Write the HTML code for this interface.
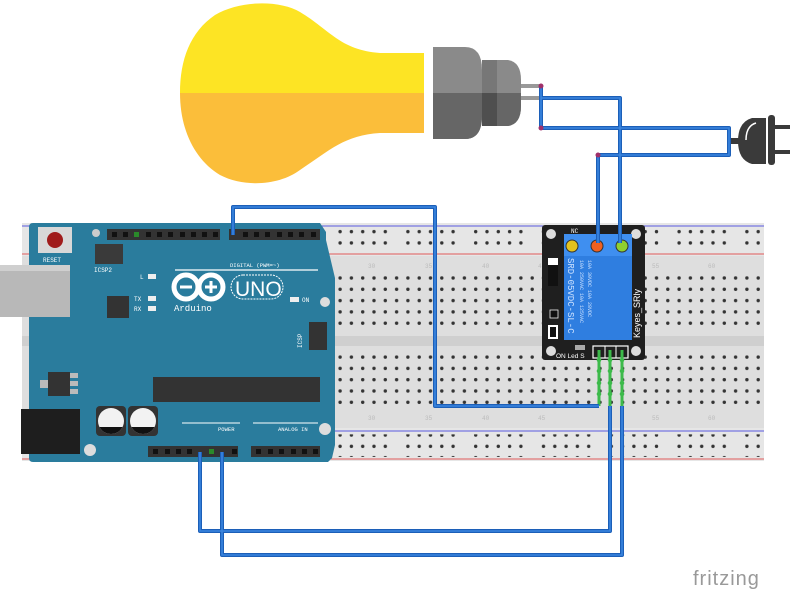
<!DOCTYPE html>
<html><head><meta charset="utf-8"><style>
html,body{margin:0;padding:0;background:#fff;}
svg{display:block;}
text{font-family:"Liberation Mono",monospace;}
</style></head><body>
<svg width="800" height="599" viewBox="0 0 800 599" xmlns="http://www.w3.org/2000/svg">
<defs>
<pattern id="rail" patternUnits="userSpaceOnUse" x="-4.55" y="0" width="67.8" height="11.3">
<circle cx="5.65" cy="5.65" r="1.7" fill="#333"/><circle cx="16.95" cy="5.65" r="1.7" fill="#333"/><circle cx="28.25" cy="5.65" r="1.7" fill="#333"/><circle cx="39.55" cy="5.65" r="1.7" fill="#333"/><circle cx="50.85" cy="5.65" r="1.7" fill="#333"/>
</pattern>
<pattern id="main" patternUnits="userSpaceOnUse" x="-4.55" y="272.35" width="11.3" height="11.3">
<circle cx="5.65" cy="5.65" r="1.7" fill="#333"/>
</pattern>
<clipPath id="bulb"><path d="M424,53 L380,53 C340,50 330,30 300,12 C280,0 240,0 215,15 C190,32 180,60 180,93 C180,130 195,160 220,175 C245,188 280,185 300,170 C330,150 345,135 380,133 L424,133 Z"/></clipPath>
<clipPath id="cap1"><circle cx="111" cy="421" r="13"/></clipPath>
<clipPath id="cap2"><circle cx="143" cy="421" r="13"/></clipPath>
</defs>

<!-- bulb -->
<g clip-path="url(#bulb)">
<rect x="170" y="0" width="260" height="93" fill="#fde424"/>
<rect x="170" y="93" width="260" height="100" fill="#fbbe3a"/>
</g>
<path d="M433,47 L465,47 Q482,47 482,70 L482,116 Q482,139 465,139 L433,139 Z" fill="#8a8a8a"/>
<path d="M433,93 L482,93 L482,116 Q482,139 465,139 L433,139 Z" fill="#666"/>
<rect x="482" y="60" width="15" height="66" fill="#777"/>
<rect x="482" y="93" width="15" height="33" fill="#4f4f4f"/>
<path d="M497,60 L508,60 Q521,62 521,80 L521,106 Q521,124 508,126 L497,126 Z" fill="#8a8a8a"/>
<path d="M497,93 L521,93 L521,106 Q521,124 508,126 L497,126 Z" fill="#666"/>
<rect x="521" y="84" width="20" height="4" fill="#999"/>
<rect x="521" y="96" width="20" height="4" fill="#999"/>

<!-- plug -->
<rect x="731" y="138" width="9" height="6" fill="#3a3a3a"/>
<path d="M766,118 L752,118 Q738,122 738,141 Q738,160 752,164 L766,164 Z" fill="#3a3a3a"/>
<path d="M746,140 Q746,126 756,123" stroke="#fff" stroke-width="1.5" fill="none"/>
<rect x="768" y="115" width="7" height="50" rx="3" fill="#3a3a3a"/>
<rect x="775" y="125" width="15" height="4" fill="#3a3a3a"/>
<rect x="775" y="150" width="15" height="4" fill="#3a3a3a"/>

<!-- breadboard -->
<rect x="22" y="223" width="742" height="238" fill="#dedede"/>
<rect x="22" y="223" width="742" height="33" fill="#e6e6e6"/>
<rect x="22" y="428" width="742" height="33" fill="#e6e6e6"/>
<rect x="22" y="336" width="742" height="10" fill="#cfcfcf"/>
<line x1="22" y1="226" x2="764" y2="226" stroke="#5a5ae0" stroke-width="1"/>
<line x1="22" y1="254" x2="764" y2="254" stroke="#e05a5a" stroke-width="1"/>
<line x1="22" y1="431" x2="764" y2="431" stroke="#5a5ae0" stroke-width="1"/>
<line x1="22" y1="459" x2="764" y2="459" stroke="#e05a5a" stroke-width="1"/>
<g>
<rect x="28" y="229.35" width="732" height="22.6" fill="url(#rail)"/>
<rect x="28" y="272.35" width="732" height="56.5" fill="url(#main)"/>
<rect x="28" y="354.35" width="732" height="56.5" fill="url(#main)"/>
<rect x="28" y="434.35" width="732" height="22.6" fill="url(#rail)"/>
</g>
<g font-size="6" fill="#bbb">
<text x="368" y="268">30</text><text x="425" y="268">35</text><text x="482" y="268">40</text><text x="538" y="268">45</text><text x="595" y="268">50</text><text x="652" y="268">55</text><text x="708" y="268">60</text>
<text x="368" y="420">30</text><text x="425" y="420">35</text><text x="482" y="420">40</text><text x="538" y="420">45</text><text x="652" y="420">55</text><text x="708" y="420">60</text>
</g>

<!-- arduino -->
<path d="M33,223 L320,223 L326,232 L326,240 L335,278 L335,445 L332,458 L328,462 L33,462 Q29,462 29,458 L29,227 Q29,223 33,223 Z" fill="#2a7c9d"/>
<rect x="0" y="265" width="70" height="52" fill="#b8b8b8"/>
<rect x="0" y="265" width="70" height="6" fill="#cfcfcf"/>
<rect x="38" y="227" width="34" height="26" fill="#d8d8d8"/>
<circle cx="55" cy="240" r="8" fill="#a01c1c"/>
<text x="43" y="262" font-size="6" fill="#fff">RESET</text>
<rect x="95" y="244" width="28" height="20" fill="#3a3a3a"/>
<text x="94" y="272" font-size="6" fill="#fff">ICSP2</text>
<circle cx="96" cy="233" r="4" fill="#ccc"/>
<rect x="107" y="229" width="113" height="11" fill="#333"/>
<rect x="229" y="229" width="91" height="11" fill="#333"/>
<g fill="#111">
<rect x="112" y="232" width="5" height="5"/><rect x="123" y="232" width="5" height="5"/><rect x="146" y="232" width="5" height="5"/><rect x="157" y="232" width="5" height="5"/><rect x="168" y="232" width="5" height="5"/><rect x="180" y="232" width="5" height="5"/><rect x="191" y="232" width="5" height="5"/><rect x="202" y="232" width="5" height="5"/><rect x="213" y="232" width="5" height="5"/>
<rect x="243" y="232" width="5" height="5"/><rect x="254" y="232" width="5" height="5"/><rect x="265" y="232" width="5" height="5"/><rect x="277" y="232" width="5" height="5"/><rect x="288" y="232" width="5" height="5"/><rect x="299" y="232" width="5" height="5"/><rect x="311" y="232" width="5" height="5"/>
</g>
<rect x="134" y="232" width="5" height="5" fill="#2a8a2a"/>
<text x="230" y="267" font-size="5.5" fill="#fff">DIGITAL (PWM=~)</text>
<line x1="175" y1="270" x2="318" y2="270" stroke="#fff" stroke-width="1.2"/>
<rect x="148" y="274" width="8" height="5" fill="#eee"/>
<text x="140" y="279" font-size="6" fill="#fff">L</text>
<rect x="107" y="296" width="22" height="22" fill="#333"/>
<rect x="148" y="296" width="8" height="5" fill="#eee"/><rect x="148" y="306" width="8" height="5" fill="#eee"/>
<text x="134" y="301" font-size="6" fill="#fff">TX</text><text x="134" y="311" font-size="6" fill="#fff">RX</text>
<circle cx="186" cy="287" r="12" fill="none" stroke="#fff" stroke-width="5"/>
<circle cx="211" cy="287" r="12" fill="none" stroke="#fff" stroke-width="5"/>
<rect x="180" y="285.5" width="12" height="3" fill="#fff"/>
<rect x="205" y="285.5" width="12" height="3" fill="#fff"/><rect x="209.5" y="281" width="3" height="12" fill="#fff"/>
<rect x="231" y="275" width="52" height="24" rx="12" fill="none" stroke="#fff" stroke-width="1" stroke-dasharray="2 1"/>
<text x="235" y="296" font-size="21" fill="#fff" style="font-family:'Liberation Sans',sans-serif">UNO</text>
<text x="174" y="311" font-size="9" fill="#fff">Arduino</text>
<rect x="290" y="297" width="9" height="5" fill="#eee"/><text x="302" y="302" font-size="6" fill="#fff">ON</text>
<circle cx="325" cy="302" r="5" fill="#ddd"/>
<rect x="309" y="322" width="18" height="28" fill="#333"/>
<text x="302" y="348" font-size="6" fill="#fff" transform="rotate(-90 302 348)">ICSP</text>
<rect x="48" y="372" width="22" height="24" fill="#333"/>
<rect x="40" y="380" width="8" height="8" fill="#bbb"/>
<rect x="70" y="373" width="8" height="5" fill="#bbb"/><rect x="70" y="381" width="8" height="5" fill="#bbb"/><rect x="70" y="389" width="8" height="5" fill="#bbb"/>
<rect x="153" y="377" width="167" height="25" fill="#333"/>
<rect x="21" y="409" width="59" height="45" fill="#1e1e1e"/>
<rect x="96" y="406" width="30" height="30" rx="4" fill="#333"/>
<rect x="128" y="406" width="30" height="30" rx="4" fill="#333"/>
<circle cx="111" cy="421" r="13" fill="#f2f2f2"/><rect x="96" y="427" width="30" height="10" fill="#111" clip-path="url(#cap1)"/>
<circle cx="143" cy="421" r="13" fill="#f2f2f2"/><rect x="128" y="427" width="30" height="10" fill="#111" clip-path="url(#cap2)"/>
<circle cx="90" cy="450" r="6" fill="#ddd"/>
<circle cx="325" cy="429" r="6" fill="#ddd"/>
<line x1="182" y1="423" x2="240" y2="423" stroke="#fff" stroke-width="1"/>
<line x1="253" y1="423" x2="318" y2="423" stroke="#fff" stroke-width="1"/>
<text x="218" y="431" font-size="5.5" fill="#fff">POWER</text>
<text x="278" y="431" font-size="5.5" fill="#fff">ANALOG IN</text>
<rect x="148" y="446" width="90" height="11" fill="#333"/>
<rect x="251" y="446" width="69" height="11" fill="#333"/>
<g fill="#111">
<rect x="153" y="449" width="5" height="5"/><rect x="165" y="449" width="5" height="5"/><rect x="176" y="449" width="5" height="5"/><rect x="187" y="449" width="5" height="5"/><rect x="232" y="449" width="5" height="5"/>
<rect x="256" y="449" width="5" height="5"/><rect x="268" y="449" width="5" height="5"/><rect x="279" y="449" width="5" height="5"/><rect x="291" y="449" width="5" height="5"/><rect x="302" y="449" width="5" height="5"/><rect x="313" y="449" width="5" height="5"/>
</g>
<rect x="209" y="449" width="5" height="5" fill="#2a8a2a"/>

<!-- relay -->
<rect x="542" y="225" width="103" height="135" rx="3" fill="#1f1f1f"/>
<circle cx="551" cy="234" r="5" fill="#ddd"/><circle cx="636" cy="234" r="5" fill="#ddd"/>
<circle cx="551" cy="351" r="5" fill="#ddd"/><circle cx="636" cy="351" r="5" fill="#ddd"/>
<rect x="564" y="234" width="68" height="106" fill="#2f7ee0"/>
<rect x="564" y="234" width="68" height="22" fill="#3f8ff0"/>
<circle cx="572" cy="246" r="6" fill="#e3c21f" stroke="#333" stroke-width="1"/>
<circle cx="597" cy="246" r="6" fill="#f06020" stroke="#333" stroke-width="1"/>
<circle cx="622" cy="246" r="6" fill="#8fd030" stroke="#333" stroke-width="1"/>
<text x="571" y="233" font-size="6" fill="#fff">NC</text>
<text x="568" y="258" font-size="9" fill="#cfe3ff" transform="rotate(90 568 258)">SRD-05VDC-SL-C</text>
<text x="580" y="260" font-size="5" fill="#cfe3ff" transform="rotate(90 580 260)">10A 250VAC 10A 125VAC</text>
<text x="588" y="260" font-size="5" fill="#cfe3ff" transform="rotate(90 588 260)">10A 30VDC 10A 28VDC</text>
<text x="640" y="338" font-size="9" fill="#fff" transform="rotate(-90 640 338)" style="font-family:'Liberation Sans',sans-serif">Keyes_SRly</text>
<rect x="548" y="258" width="10" height="28" fill="#fff"/><rect x="548" y="265" width="10" height="21" fill="#111"/>
<rect x="550" y="310" width="8" height="8" fill="#111" stroke="#eee" stroke-width="0.8"/>
<rect x="548" y="325" width="10" height="14" fill="#fff"/><rect x="550" y="327" width="6" height="10" fill="#111"/>
<text x="556" y="358" font-size="6.5" fill="#fff" style="font-family:'Liberation Sans',sans-serif">ON Led S</text>
<rect x="575" y="345" width="10" height="5" fill="#aaa"/>
<rect x="593" y="346" width="35" height="12" fill="none" stroke="#fff" stroke-width="1.2"/>
<line x1="605" y1="346" x2="605" y2="358" stroke="#fff"/><line x1="616" y1="346" x2="616" y2="358" stroke="#fff"/>
<g stroke="#3cba4a" stroke-width="3">
<line x1="599" y1="350" x2="599" y2="406"/><line x1="610" y1="350" x2="610" y2="406"/><line x1="622" y1="350" x2="622" y2="406"/>
</g>
<g fill="#3cba4a"><circle cx="599" cy="360" r="2.3"/><circle cx="610" cy="360" r="2.3"/><circle cx="622" cy="360" r="2.3"/>
<circle cx="599" cy="371" r="2.3"/><circle cx="610" cy="371" r="2.3"/><circle cx="622" cy="371" r="2.3"/>
<circle cx="599" cy="383" r="2.3"/><circle cx="610" cy="383" r="2.3"/><circle cx="622" cy="383" r="2.3"/>
<circle cx="599" cy="394" r="2.3"/><circle cx="610" cy="394" r="2.3"/><circle cx="622" cy="394" r="2.3"/></g>

<!-- wires -->
<g fill="none" stroke="#1c5fb8" stroke-width="4" stroke-linejoin="round">
<polyline points="233,235 233,207 435,207 435,406 599,406"/>
<polyline points="200,452 200,531 610,531 610,406"/>
<polyline points="222,452 222,555 622,555 622,406"/>
<polyline points="541,86 541,128 729,128 729,155 598,155 598,243"/>
<polyline points="541,98 620,98 620,243"/>
</g>
<g fill="none" stroke="#3b86e0" stroke-width="1.6">
<polyline points="233,235 233,207 435,207 435,406 599,406"/>
<polyline points="200,452 200,531 610,531 610,406"/>
<polyline points="222,452 222,555 622,555 622,406"/>
<polyline points="541,86 541,128 729,128 729,155 598,155 598,243"/>
<polyline points="541,98 620,98 620,243"/>
</g>
<g fill="#a0306a"><circle cx="541" cy="86" r="2.5"/><circle cx="541" cy="128" r="2.5"/><circle cx="598" cy="155" r="2.5"/></g>

<text x="693" y="585" font-size="20" letter-spacing="1" fill="#999" style="font-family:'Liberation Sans',sans-serif">fritzing</text>
</svg>
</body></html>
